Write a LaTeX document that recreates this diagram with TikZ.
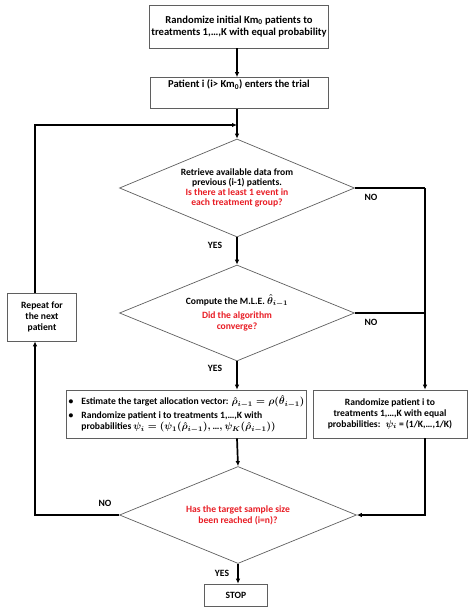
\documentclass[tikz,border=0pt]{standalone}
\usepackage{fontspec}
\setmainfont{Carlito}
\usepackage{amsmath}
\usetikzlibrary{shapes.geometric,arrows.meta}
\definecolor{qred}{RGB}{232,28,36}
\definecolor{edgegray}{RGB}{95,95,95}
\tikzset{
  txt/.style={font=\fontsize{9.6}{11}\selectfont\bfseries\boldmath},
  bigtxt/.style={font=\fontsize{10.6}{12.5}\selectfont\bfseries\boldmath},
  box/.style={txt, draw=edgegray, line width=.7pt, align=center, inner sep=2pt},
  decision/.style={txt, diamond, aspect=2.4, draw=edgegray, line width=.7pt, align=center, inner sep=0pt},
  link/.style={line width=1.7pt, -{Latex[length=5pt,width=4.5pt]}},
  line/.style={line width=1.7pt},
  lbl/.style={txt}
}

\begin{document}
\begin{tikzpicture}[x=1pt, y=-1pt]
\useasboundingbox (0,0) rectangle (474,613);
\node[box, bigtxt, minimum width=178, minimum height=43] (init) at (239,26.5)
  {Randomize initial Km\textsubscript{0} patients to\\treatments 1,…,K with equal probability};
\node[box, bigtxt, minimum width=178, text height=8pt, text depth=19pt] (enter) at (239,93)
  {Patient i (i> Km\textsubscript{0}) enters the trial};
\node[decision, minimum width=235, minimum height=98] (events) at (237,188)
  {Retrieve available data from\\[-1pt]previous (i-1) patients.\\[-1pt]\textcolor{qred}{Is there at least 1 event in}\\[-1pt]\textcolor{qred}{each treatment group?}};
\node[decision, minimum width=235, minimum height=96] (mle) at (237,313)
  {Compute the M.L.E. $\hat{\theta}_{i-1}$\\[3pt]\textcolor{qred}{Did the algorithm}\\\textcolor{qred}{converge?}};
\node[box, align=left, minimum width=233, minimum height=48] (estim) at (186.5,414)
  {\textbullet\hspace{8pt}Estimate the target allocation vector: $\hat{\rho}_{i-1}=\rho(\hat{\theta}_{i-1})$\\[2.5pt]
   \textbullet\hspace{8pt}Randomize patient i to treatments 1,…,K with\\[0.5pt]
   \phantom{\textbullet\hspace{8pt}}probabilities$\,\psi_i=(\psi_1(\hat{\rho}_{i-1}),…,\psi_K(\hat{\rho}_{i-1}))$};
\node[box, minimum width=154, minimum height=48] (equal) at (390,414)
  {Randomize patient i to\\treatments 1,…,K with equal\\probabilities:~ $\psi_i$ = (1/K,…,1/K)};
\node[decision, minimum width=237, minimum height=97] (size) at (238,515)
  {\textcolor{qred}{Has the target sample size}\\\textcolor{qred}{been reached (i=n)?}};
\node[box, minimum width=63, minimum height=22] (stop) at (236,595) {STOP};
\node[box, minimum width=69, minimum height=48] (repeat) at (42,317)
  {Repeat for\\the next\\patient};

\coordinate (join) at (237,125);
\coordinate (rside) at (425,188);
\coordinate (lside) at (35,515);

% main column
\draw[link] (init.south -| join) -- (enter.north -| join);
\draw[link] (enter.south -| join) -- (events.north);
\draw[link] (events.south) -- (mle.north);
\draw[link] (mle.south) -- (mle.south |- estim.north);
\draw[link] (mle.south |- estim.south) -- (size.north);
\draw[link] (size.south) -- (size.south |- stop.north);
% right branch
\draw[line] (events.east) -- (rside);
\draw[link] (rside) -- (rside |- equal.north);
\draw[line] (mle.east) -- (mle.east -| rside);
\draw[link] (rside |- equal.south) |- (size.east);
% left loop
\draw[link] (size.west) -- (lside) -- (lside |- repeat.south);
\draw[link] (lside |- repeat.north) |- (join);

\node[lbl] (no1) at (371,197) {NO};
\node[lbl] (yes1) at (215,245) {YES};
\node[lbl] (no2) at (371,322) {NO};
\node[lbl] (yes2) at (215,368) {YES};
\node[lbl] (no3) at (105,503) {NO};
\node[lbl] (yes3) at (222,573) {YES};
\end{tikzpicture}
\end{document}
